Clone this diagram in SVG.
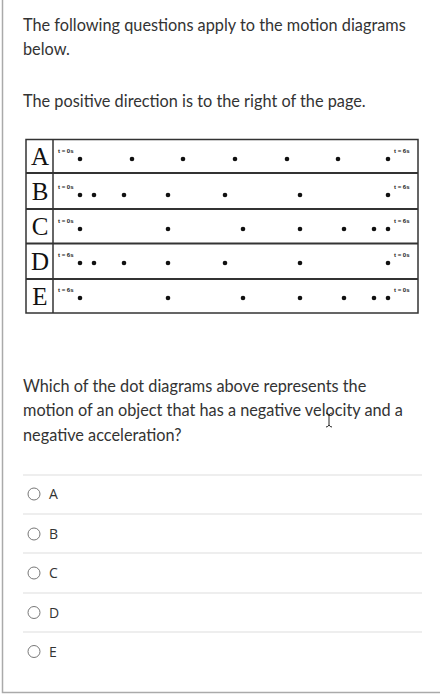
<svg xmlns="http://www.w3.org/2000/svg" width="440" height="696" viewBox="0 0 440 696">
<style>
.body{font-family:Lato,"Open Sans","Liberation Sans",sans-serif;font-size:16.3px;fill:#333}
.opt{font-family:"Open Sans",Lato,"Liberation Sans",sans-serif;font-size:14px;fill:#333}
.let{font-family:"Liberation Serif","Times New Roman",serif;font-size:25px;fill:#111;text-anchor:middle}
.t{font-family:"Liberation Sans",Arial,sans-serif;font-size:6px;font-weight:bold;fill:#222}
.grid{stroke:#333;fill:none}
.sep{stroke:#ddd;stroke-width:1}
.radio{fill:#fff;stroke:#777;stroke-width:1}
</style>
<defs>
<circle id="dot" r="2.3" fill="#111"/>
</defs>
<rect width="440" height="696" fill="#fff"/>
<g id="frame">
<path d="M2.5 0 V692.5 H440" fill="none" stroke="#aaa" stroke-width="1.5"/>
</g>
<g id="intro">
<text class="body" x="23" y="31">The following questions apply to the motion diagrams</text>
<text class="body" x="23" y="55">below.</text>
<text class="body" x="23" y="107">The positive direction is to the right of the page.</text>
</g>
<g id="table">
<rect class="grid" x="26" y="139.5" width="392" height="173.5" stroke-width="1.5"/>
<line class="grid" x1="53" y1="139.5" x2="53" y2="313" stroke-width="1.5"/>
<line class="grid" x1="26" y1="173" x2="418" y2="173" stroke-width="2"/>
<line class="grid" x1="26" y1="209" x2="418" y2="209" stroke-width="2"/>
<line class="grid" x1="26" y1="243.5" x2="418" y2="243.5" stroke-width="2"/>
<line class="grid" x1="26" y1="279" x2="418" y2="279" stroke-width="2"/>
</g>
<g id="rowA">
<text class="let" x="40" y="165">A</text>
<text class="t" x="58" y="153">t = 0s</text>
<text class="t" x="394" y="153">t = 6s</text>
<use href="#dot" x="80" y="159"/><use href="#dot" x="132" y="159"/><use href="#dot" x="183" y="159"/><use href="#dot" x="235" y="159"/><use href="#dot" x="287" y="159"/><use href="#dot" x="338" y="159"/><use href="#dot" x="388" y="159"/>
</g>
<g id="rowB">
<text class="let" x="40" y="200">B</text>
<text class="t" x="58" y="189">t = 0s</text>
<text class="t" x="394" y="189">t = 6s</text>
<use href="#dot" x="80" y="195"/><use href="#dot" x="94" y="195"/><use href="#dot" x="124" y="195"/><use href="#dot" x="168" y="195"/><use href="#dot" x="225" y="195"/><use href="#dot" x="300" y="195"/><use href="#dot" x="388" y="195"/>
</g>
<g id="rowC">
<text class="let" x="40" y="235">C</text>
<text class="t" x="58" y="223">t = 0s</text>
<text class="t" x="394" y="223">t = 6s</text>
<use href="#dot" x="80" y="229"/><use href="#dot" x="168" y="229"/><use href="#dot" x="243" y="229"/><use href="#dot" x="300" y="229"/><use href="#dot" x="344" y="229"/><use href="#dot" x="374" y="229"/><use href="#dot" x="388" y="229"/>
</g>
<g id="rowD">
<text class="let" x="40" y="270">D</text>
<text class="t" x="58" y="257">t = 6s</text>
<text class="t" x="394" y="257">t = 0s</text>
<use href="#dot" x="80" y="263"/><use href="#dot" x="94" y="263"/><use href="#dot" x="124" y="263"/><use href="#dot" x="168" y="263"/><use href="#dot" x="225" y="263"/><use href="#dot" x="300" y="263"/><use href="#dot" x="388" y="263"/>
</g>
<g id="rowE">
<text class="let" x="40" y="305">E</text>
<text class="t" x="58" y="292">t = 6s</text>
<text class="t" x="394" y="292">t = 0s</text>
<use href="#dot" x="80" y="298"/><use href="#dot" x="168" y="298"/><use href="#dot" x="243" y="298"/><use href="#dot" x="300" y="298"/><use href="#dot" x="344" y="298"/><use href="#dot" x="374" y="298"/><use href="#dot" x="388" y="298"/>
</g>
<g id="question">
<text class="body" x="23" y="392">Which of the dot diagrams above represents the</text>
<text class="body" x="23" y="416">motion of an object that has a negative velocity and a</text>
<text class="body" x="23" y="441">negative acceleration?</text>
<path d="M326 413 q2 0 3 2 q1 -2 3 -2 M329 415 V425 M326 427 q2 0 3 -2 q1 2 3 2" fill="none" stroke="#222" stroke-width="1"/>
</g>
<g id="options">
<line class="sep" x1="23" y1="475" x2="422" y2="475"/>
<line class="sep" x1="23" y1="514" x2="422" y2="514"/>
<line class="sep" x1="23" y1="553" x2="422" y2="553"/>
<line class="sep" x1="23" y1="593" x2="422" y2="593"/>
<line class="sep" x1="23" y1="632" x2="422" y2="632"/>
<g id="optA"><circle class="radio" cx="34" cy="494" r="6"/><text class="opt" x="49" y="499">A</text></g>
<g id="optB"><circle class="radio" cx="34" cy="534" r="6"/><text class="opt" x="49" y="539">B</text></g>
<g id="optC"><circle class="radio" cx="34" cy="573" r="6"/><text class="opt" x="49" y="578">C</text></g>
<g id="optD"><circle class="radio" cx="34" cy="612.5" r="6"/><text class="opt" x="49" y="617.5">D</text></g>
<g id="optE"><circle class="radio" cx="34" cy="651.5" r="6"/><text class="opt" x="49" y="656.5">E</text></g>
</g>
</svg>
